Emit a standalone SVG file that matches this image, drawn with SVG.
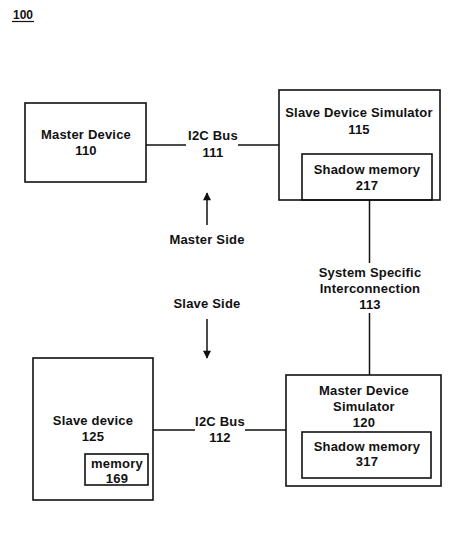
<svg xmlns="http://www.w3.org/2000/svg" width="474" height="534" viewBox="0 0 474 534">
  <defs>
    <style>
      .box { fill: none; stroke: #111; stroke-width: 1.6; }
      .wire { fill: none; stroke: #111; stroke-width: 1.5; }
      .lbl { font-family: "Liberation Sans", Arial, sans-serif; font-weight: bold; font-size: 13px; letter-spacing: 0.2px; fill: #111; text-anchor: middle; }
    </style>
    <marker id="head" viewBox="0 0 10 10" refX="9" refY="5" markerWidth="9" markerHeight="8" markerUnits="userSpaceOnUse" orient="auto">
      <path d="M0,0 L10,5 L0,10 Z" fill="#111"/>
    </marker>
  </defs>

  <rect width="474" height="534" fill="#fff"/>

  <!-- figure number -->
  <g id="fig-label">
    <text x="23" y="19" class="lbl" style="font-size:12px;letter-spacing:0">100</text>
    <line x1="12" y1="21.5" x2="34" y2="21.5" stroke="#111" stroke-width="1.2"/>
  </g>

  <!-- connectors -->
  <g id="connectors">
    <!-- I2C bus 111 -->
    <line class="wire" x1="146" y1="145" x2="186" y2="145"/>
    <line class="wire" x1="238" y1="145" x2="279" y2="145"/>
    <!-- system specific interconnection 113 -->
    <line class="wire" x1="369.5" y1="200" x2="369.5" y2="263"/>
    <line class="wire" x1="369.5" y1="313" x2="369.5" y2="375"/>
    <!-- I2C bus 112 -->
    <line class="wire" x1="153" y1="430" x2="195" y2="430"/>
    <line class="wire" x1="245" y1="430" x2="286" y2="430"/>
    <!-- side arrows -->
    <line class="wire" x1="207" y1="225" x2="207" y2="193" marker-end="url(#head)"/>
    <line class="wire" x1="207" y1="319" x2="207" y2="358" marker-end="url(#head)"/>
  </g>

  <g id="connector-labels">
    <text class="lbl" x="213" y="140">I2C Bus</text>
    <text class="lbl" x="213" y="157">111</text>
    <text class="lbl" x="370" y="277">System Specific</text>
    <text class="lbl" x="370" y="293">Interconnection</text>
    <text class="lbl" x="370" y="309">113</text>
    <text class="lbl" x="220" y="426">I2C Bus</text>
    <text class="lbl" x="220" y="442">112</text>
    <text class="lbl" x="207" y="244">Master Side</text>
    <text class="lbl" x="207" y="308">Slave Side</text>
  </g>

  <!-- Master Device 110 -->
  <g id="master-device-110">
    <rect class="box" x="25" y="103" width="121" height="79"/>
    <text class="lbl" x="86" y="139">Master Device</text>
    <text class="lbl" x="86" y="155">110</text>
  </g>

  <!-- Slave Device Simulator 115 -->
  <g id="slave-device-simulator-115">
    <rect class="box" x="279" y="90" width="161" height="110"/>
    <text class="lbl" x="359" y="117">Slave Device Simulator</text>
    <text class="lbl" x="359" y="134">115</text>
  </g>
  <g id="shadow-memory-217">
    <rect class="box" x="302" y="154" width="130" height="46"/>
    <text class="lbl" x="367" y="174">Shadow memory</text>
    <text class="lbl" x="367" y="190">217</text>
  </g>

  <!-- Slave device 125 -->
  <g id="slave-device-125">
    <rect class="box" x="33" y="358" width="120" height="142"/>
    <text class="lbl" x="93" y="425">Slave device</text>
    <text class="lbl" x="93" y="441">125</text>
  </g>
  <g id="memory-169">
    <rect class="box" x="85" y="454" width="63" height="31"/>
    <text class="lbl" x="117" y="468">memory</text>
    <text class="lbl" x="117" y="483">169</text>
  </g>

  <!-- Master Device Simulator 120 -->
  <g id="master-device-simulator-120">
    <rect class="box" x="286" y="375" width="155" height="111"/>
    <text class="lbl" x="364" y="395">Master Device</text>
    <text class="lbl" x="364" y="411">Simulator</text>
    <text class="lbl" x="364" y="427">120</text>
  </g>
  <g id="shadow-memory-317">
    <rect class="box" x="302" y="432" width="129" height="46"/>
    <text class="lbl" x="367" y="451">Shadow memory</text>
    <text class="lbl" x="367" y="466">317</text>
  </g>
</svg>
